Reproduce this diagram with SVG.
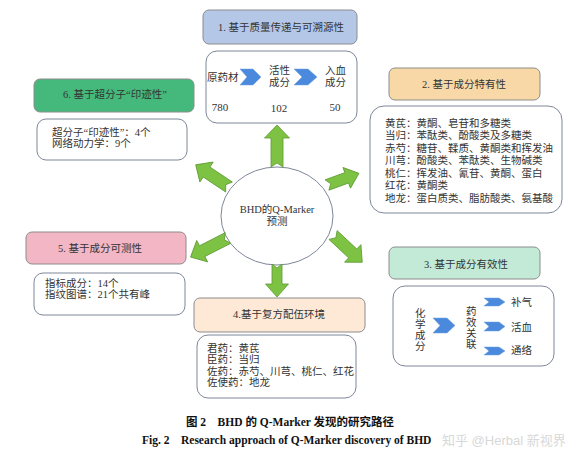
<svg xmlns="http://www.w3.org/2000/svg" width="581" height="464" viewBox="0 0 581 464">
<style>
text{font-family:"Liberation Serif","Noto Sans CJK SC",serif;fill:#333;}
.hd{font-size:10.5px;text-anchor:middle;}
.ct{font-size:10.5px;}
.num{font-size:11px;text-anchor:middle;}
.hbox{stroke:#8c8c8c;stroke-width:1;}
.cbox{fill:#fff;stroke:#7d8799;stroke-width:1;}
.arr{fill:#7dc242;stroke:#5e9b35;stroke-width:0.8;}
.chev{fill:#4a89dc;stroke:#6fa0e0;stroke-width:0.5;}
.cap{font-weight:bold;font-size:11.5px;fill:#111;}
</style>
<rect width="581" height="464" fill="#fff"/>

<g id="center">
<ellipse cx="277" cy="216" rx="56" ry="49" fill="#fff" stroke="#7d8799" stroke-width="1"/>
<text class="hd" x="277" y="213">BHD的Q-Marker</text>
<text class="hd" x="277" y="225">预测</text>
</g>

<g id="connectors">
<polygon class="arr" transform="translate(277,167) rotate(-90)" points="0,-6 29,-6 29,-12.5 42,0 29,12.5 29,6 0,6 4,0"/>
<polygon class="arr" transform="translate(277,264) rotate(90)" points="0,-5 20,-5 20,-11.5 33,0 20,11.5 20,5 0,5 4,0"/>
<polygon class="arr" transform="translate(229,187) rotate(213.7)" points="0,-6 27,-6 27,-12 40,0 27,12 27,6 0,6 4,0"/>
<polygon class="arr" transform="translate(327,185) rotate(-20)" points="0,-5.5 21,-5.5 21,-11 34,0 21,11 21,5.5 0,5.5 4,0"/>
<polygon class="arr" transform="translate(228,238) rotate(153)" points="0,-6 29,-6 29,-12 42,0 29,12 29,6 0,6 4,0"/>
<polygon class="arr" transform="translate(333,235) rotate(43)" points="0,-6 27,-6 27,-12 40,0 27,12 27,6 0,6 4,0"/>
</g>

<g id="node1">
<rect class="hbox" x="203" y="10" width="154" height="34" rx="6" fill="#b4c7e7"/>
<text class="hd" x="281" y="31">1. 基于质量传递与可溯源性</text>
<rect class="cbox" x="206" y="51" width="151" height="72" rx="11"/>
<text class="ct" x="207" y="81">原药材</text>
<polygon class="chev" points="240,69 253,69 261,77 253,85 240,85 247,77"/>
<text class="ct" x="269" y="74">活性</text>
<text class="ct" x="269" y="86">成分</text>
<polygon class="chev" points="294,69 308,69 317,77 308,85 294,85 302,77"/>
<text class="ct" x="325" y="74">入血</text>
<text class="ct" x="325" y="86">成分</text>
<text class="num" x="220" y="111">780</text>
<text class="num" x="279" y="112">102</text>
<text class="num" x="335" y="111">50</text>
</g>

<g id="node2">
<rect class="hbox" x="389" y="68" width="151" height="32" rx="6" fill="#f9d8a8"/>
<text class="hd" x="464" y="88">2. 基于成分特有性</text>
<rect class="cbox" x="370" y="106" width="192" height="107" rx="14"/>
<text class="ct" x="385" y="126.5">黄芪：黄酮、皂苷和多糖类</text>
<text class="ct" x="385" y="139">当归：苯酞类、酚酸类及多糖类</text>
<text class="ct" x="385" y="151.5">赤芍：糖苷、鞣质、黄酮类和挥发油</text>
<text class="ct" x="385" y="164">川芎：酚酸类、苯酞类、生物碱类</text>
<text class="ct" x="385" y="176.5">桃仁：挥发油、氰苷、黄酮、蛋白</text>
<text class="ct" x="385" y="189">红花：黄酮类</text>
<text class="ct" x="385" y="201.5">地龙：蛋白质类、脂肪酸类、氨基酸</text>
</g>

<g id="node3">
<rect class="hbox" x="389" y="247" width="151" height="32" rx="6" fill="#c3ead6"/>
<text class="hd" x="466" y="268">3. 基于成分有效性</text>
<rect class="cbox" x="393" y="286" width="161" height="80" rx="12"/>
<text class="ct" x="415" y="317">化</text>
<text class="ct" x="415" y="328">学</text>
<text class="ct" x="415" y="339">成</text>
<text class="ct" x="415" y="350">分</text>
<polygon class="chev" points="433,318 447,318 455,325.5 447,333 433,333 440,325.5"/>
<text class="ct" x="466" y="315">药</text>
<text class="ct" x="466" y="326">效</text>
<text class="ct" x="466" y="337">关</text>
<text class="ct" x="466" y="348">联</text>
<polygon class="chev" points="484,298 499,298 505,302 499,306 484,306 489,302"/>
<polygon class="chev" points="484,322 499,322 505,326.5 499,331 484,331 489,326.5"/>
<polygon class="chev" points="484,347 499,347 505,351 499,355 484,355 489,351"/>
<text class="ct" x="511" y="306">补气</text>
<text class="ct" x="511" y="331">活血</text>
<text class="ct" x="511" y="354">通络</text>
</g>

<g id="node4">
<rect class="hbox" x="194" y="298" width="171" height="34" rx="6" fill="#fde9d6"/>
<text class="hd" x="279" y="318">4.基于复方配伍环境</text>
<rect class="cbox" x="197" y="335" width="159" height="63" rx="11"/>
<text class="ct" x="207" y="352">君药：黄芪</text>
<text class="ct" x="207" y="363">臣药：当归</text>
<text class="ct" x="207" y="375">佐药：赤芍、川芎、桃仁、红花</text>
<text class="ct" x="207" y="386">佐使药：地龙</text>
</g>

<g id="node5">
<rect class="hbox" x="26" y="232" width="160" height="32" rx="6" fill="#f2b6c5"/>
<text class="hd" x="100" y="252">5. 基于成分可测性</text>
<rect class="cbox" x="34" y="273" width="151" height="42" rx="9"/>
<text class="ct" x="45" y="286.5">指标成分：14个</text>
<text class="ct" x="45" y="297.5">指纹图谱：21个共有峰</text>
</g>

<g id="node6">
<rect class="hbox" x="34" y="79" width="160" height="33" rx="6" fill="#45b97c"/>
<text class="hd" x="115" y="98">6. 基于超分子“印迹性”</text>
<rect class="cbox" x="37" y="119" width="150" height="41" rx="9"/>
<text class="ct" x="52" y="135.5">超分子“印迹性”：4个</text>
<text class="ct" x="52" y="147">网络动力学：9个</text>
</g>

<g id="caption">
<text class="cap" x="290" y="426" text-anchor="middle">图 2　BHD 的 Q-Marker 发现的研究路径</text>
<text class="cap" x="142" y="444">Fig. 2　Research approach of Q-Marker discovery of BHD</text>
<text x="442" y="445" style="font-family:'Liberation Sans','Noto Sans CJK SC',sans-serif;font-size:13px;fill:#d8d8d8;">知乎 @Herbal 新视界</text>
</g>
</svg>
